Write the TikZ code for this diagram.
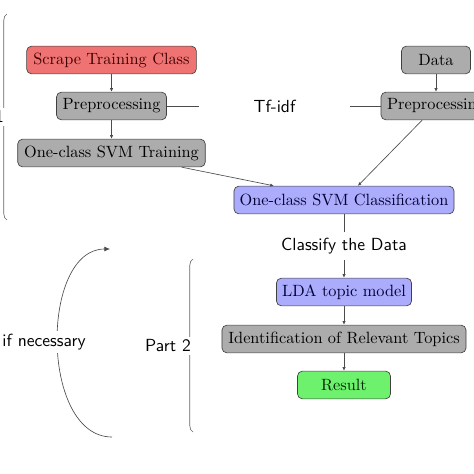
\documentclass[tikz,border=0pt]{standalone}
\usepackage{fontspec}
\usetikzlibrary{decorations.pathreplacing,arrows.meta}
\definecolor{boxred}{RGB}{240,115,115}
\definecolor{boxgray}{RGB}{172,172,172}
\definecolor{boxblue}{RGB}{172,172,252}
\definecolor{boxgreen}{RGB}{110,242,110}
\begin{document}
\begin{tikzpicture}[x=0.613pt,y=-0.613pt,
  box/.style={draw=black!75, rounded corners=3pt, minimum height=17pt, inner xsep=2pt, inner ysep=2pt},
  lbl/.style={font=\fontsize{10.75pt}{13pt}\selectfont\sffamily, inner sep=2pt},
  conn/.style={draw=black!70, line width=0.4pt},
  arr/.style={conn, -{Latex[length=2.2pt,width=2pt]}},
  looparr/.style={conn, -{Latex[length=3.5pt,width=3pt]}},
  brc/.style={draw=black!60, decorate, decoration={brace, amplitude=4pt}}]
\useasboundingbox (0,0) rectangle (474,474);
% part 1 nodes
\node[box, fill=boxred, text=red!25!black, minimum width=104pt] (scrape) at (111.5,60) {Scrape Training Class};
\node[box, fill=boxgray, minimum width=67.4pt] (pre1) at (111.5,106) {Preprocessing};
\node[box, fill=boxgray, minimum width=115pt] (train) at (111.5,153) {One-class SVM Training};
\node[box, fill=boxgray, minimum width=42.3pt] (data) at (436,60) {Data};
\node[box, fill=boxgray, minimum width=67.4pt] (pre2) at (436,106) {Preprocessing};
\node[lbl, minimum width=92.6pt] (tfidf) at (274.5,106) {Tf-idf};
\node[box, fill=boxblue, text=blue!20!black, minimum width=134.9pt] (cls) at (344,200) {One-class SVM Classification};
% part 2 nodes
\node[lbl, inner ysep=3.5pt] (ctd) at (344,246) {Classify the Data};
\node[box, fill=boxblue, text=blue!20!black, minimum width=82.8pt] (lda) at (344,292) {LDA topic model};
\node[box, fill=boxgray, minimum width=149.6pt] (ident) at (344,339) {Identification of Relevant Topics};
\node[box, fill=boxgreen, text=green!15!black, minimum width=57pt] (res) at (344,385) {Result};
% connectors
\draw[arr] (scrape) -- (pre1);
\draw[arr] (pre1) -- (train);
\draw[arr] (data) -- (pre2);
\draw[conn] (pre1) -- (tfidf);
\draw[conn] (tfidf) -- (pre2);
\draw[arr] (train) -- (cls);
\draw[arr] (pre2) -- (cls);
\draw[conn] (cls) -- (ctd);
\draw[arr] (ctd) -- (lda);
\draw[arr] (lda) -- (ident);
\draw[arr] (ident) -- (res);
% loop arrow
\coordinate (lb) at (112,437);
\coordinate (lt) at (110,249);
\draw[looparr] (lb) .. controls (40,437) and (40,249) .. (lt);
\node[lbl, fill=white] (nec) at (44,342) {if necessary};
% braces
\coordinate (b1s) at (7,220);
\coordinate (b1e) at (7,14);
\draw[brc] (b1s) -- (b1e);
\node[lbl, fill=white] (p1) at (-19,117) {Part 1};
\coordinate (b2s) at (193,432);
\coordinate (b2e) at (193,259);
\draw[brc] (b2s) -- (b2e);
\node[lbl, fill=white] (p2) at (168,346) {Part 2};
\end{tikzpicture}
\end{document}
